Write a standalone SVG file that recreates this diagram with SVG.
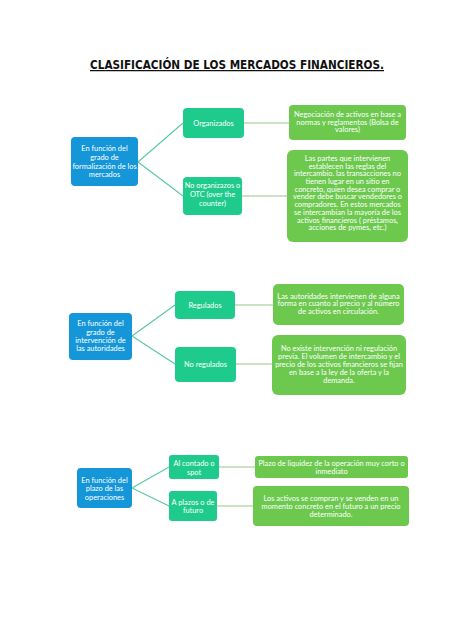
<svg xmlns="http://www.w3.org/2000/svg" width="474" height="632" viewBox="0 0 474 632">
<style>
.bg{fill:#ffffff}
.blue{fill:#1496d8}
.teal{fill:#1ecb8c}
.green{fill:#6cc94e}
.t{font-family:Lato,"Open Sans","Liberation Sans",sans-serif;font-size:7.4px;fill:#ffffff;text-anchor:middle;dominant-baseline:central}
.title{font-family:"DejaVu Sans Condensed","DejaVu Sans",sans-serif;font-size:12.5px;font-weight:bold;fill:#111111;text-anchor:middle;text-decoration:underline}
.c1{stroke:#5ccaa0;stroke-width:1.2;fill:none}
.c2{stroke:#93c78a;stroke-width:1.2;fill:none}
</style>
<rect class="bg" x="0" y="0" width="474" height="632"/>
<text class="title" x="237" y="69" textLength="294" lengthAdjust="spacingAndGlyphs">CLASIFICACIÓN DE LOS MERCADOS FINANCIEROS.</text>
<g id="connectors">
<path class="c1" d="M138 162 L183 123 M138 162 L183 196"/>
<path class="c2" d="M244 123 H289 M242 196 H287"/>
<path class="c1" d="M132 336 L175 305 M132 336 L175 364"/>
<path class="c2" d="M235 305 H273 M236 364 H272"/>
<path class="c1" d="M132 488 L169 467 M132 488 L169 506"/>
<path class="c2" d="M219 467 H255 M217 506 H253"/>
</g>
<g id="n1">
<rect class="blue" x="71" y="137" width="67" height="49" rx="4"/>
<text class="t" x="104.5" y="148">En función del</text>
<text class="t" x="104.5" y="157">grado de</text>
<text class="t" x="104.5" y="166">formalización de los</text>
<text class="t" x="104.5" y="174.5">mercados</text>
</g>
<g id="n1a">
<rect class="teal" x="183" y="108" width="61" height="30" rx="4"/>
<text class="t" x="213.5" y="123">Organizados</text>
</g>
<g id="n1b">
<rect class="teal" x="183" y="177" width="59" height="38" rx="4"/>
<text class="t" x="212.5" y="185.5">No organizazos o</text>
<text class="t" x="212.5" y="194.5">OTC (over the</text>
<text class="t" x="212.5" y="203.5">counter)</text>
</g>
<g id="n1a1">
<rect class="green" x="289" y="105" width="117" height="35" rx="4"/>
<text class="t" x="347.5" y="114">Negociación de activos en base a</text>
<text class="t" x="347.5" y="122">normas y reglamentos (Bolsa de</text>
<text class="t" x="347.5" y="129.5">valores)</text>
</g>
<g id="n1b1">
<rect class="green" x="287" y="150" width="121" height="92" rx="6"/>
<text class="t" x="347.5" y="158.5">Las partes que intervienen</text>
<text class="t" x="347.5" y="166">establecen las reglas del</text>
<text class="t" x="347.5" y="173.5">intercambio. las transacciones no</text>
<text class="t" x="347.5" y="181">tienen lugar en un sitio en</text>
<text class="t" x="347.5" y="189">concreto, quien desea comprar o</text>
<text class="t" x="347.5" y="196.5">vender debe buscar vendedores o</text>
<text class="t" x="347.5" y="204.5">compradores. En estos mercados</text>
<text class="t" x="347.5" y="212">se intercambian la mayoría de los</text>
<text class="t" x="347.5" y="220">activos financieros ( préstamos,</text>
<text class="t" x="347.5" y="227.5">acciones de pymes, etc.)</text>
</g>
<g id="n2">
<rect class="blue" x="69" y="313" width="63" height="47" rx="4"/>
<text class="t" x="100.5" y="323">En función del</text>
<text class="t" x="100.5" y="332">grado de</text>
<text class="t" x="100.5" y="340">intervención de</text>
<text class="t" x="100.5" y="348.5">las autoridades</text>
</g>
<g id="n2a">
<rect class="teal" x="175" y="291" width="60" height="28" rx="4"/>
<text class="t" x="205" y="305">Regulados</text>
</g>
<g id="n2b">
<rect class="teal" x="175" y="347" width="61" height="35" rx="4"/>
<text class="t" x="205.5" y="364.5">No regulados</text>
</g>
<g id="n2a1">
<rect class="green" x="273" y="284" width="131" height="41" rx="5"/>
<text class="t" x="338.5" y="296">Las autoridades intervienen de alguna</text>
<text class="t" x="338.5" y="303.5">forma en cuanto al precio y al número</text>
<text class="t" x="338.5" y="311.5">de activos en circulación.</text>
</g>
<g id="n2b1">
<rect class="green" x="272" y="335" width="134" height="60" rx="6"/>
<text class="t" x="339" y="348.5">No existe intervención ni regulación</text>
<text class="t" x="339" y="356">previa. El volumen de intercambio y el</text>
<text class="t" x="339" y="364.5">precio de los activos financieros se fijan</text>
<text class="t" x="339" y="372.5">en base a la ley de la oferta y la</text>
<text class="t" x="339" y="380">demanda.</text>
</g>
<g id="n3">
<rect class="blue" x="77" y="468" width="55" height="40" rx="4"/>
<text class="t" x="104.5" y="480">En función del</text>
<text class="t" x="104.5" y="488.5">plazo de las</text>
<text class="t" x="104.5" y="497">operaciones</text>
</g>
<g id="n3a">
<rect class="teal" x="169" y="455" width="50" height="24" rx="3"/>
<text class="t" x="194" y="463.5">Al contado o</text>
<text class="t" x="194" y="472">spot</text>
</g>
<g id="n3b">
<rect class="teal" x="169" y="491" width="48" height="30" rx="3"/>
<text class="t" x="193" y="502">A plazos o de</text>
<text class="t" x="193" y="510">futuro</text>
</g>
<g id="n3a1">
<rect class="green" x="255" y="456" width="153" height="22" rx="3"/>
<text class="t" x="331.5" y="463.5">Plazo de liquidez de la operación muy corto o</text>
<text class="t" x="331.5" y="471">inmediato</text>
</g>
<g id="n3b1">
<rect class="green" x="253" y="486" width="156" height="40" rx="4"/>
<text class="t" x="331" y="498">Los activos se compran y se venden en un</text>
<text class="t" x="331" y="506">momento concreto en el futuro a un precio</text>
<text class="t" x="331" y="514">determinado.</text>
</g>
</svg>
